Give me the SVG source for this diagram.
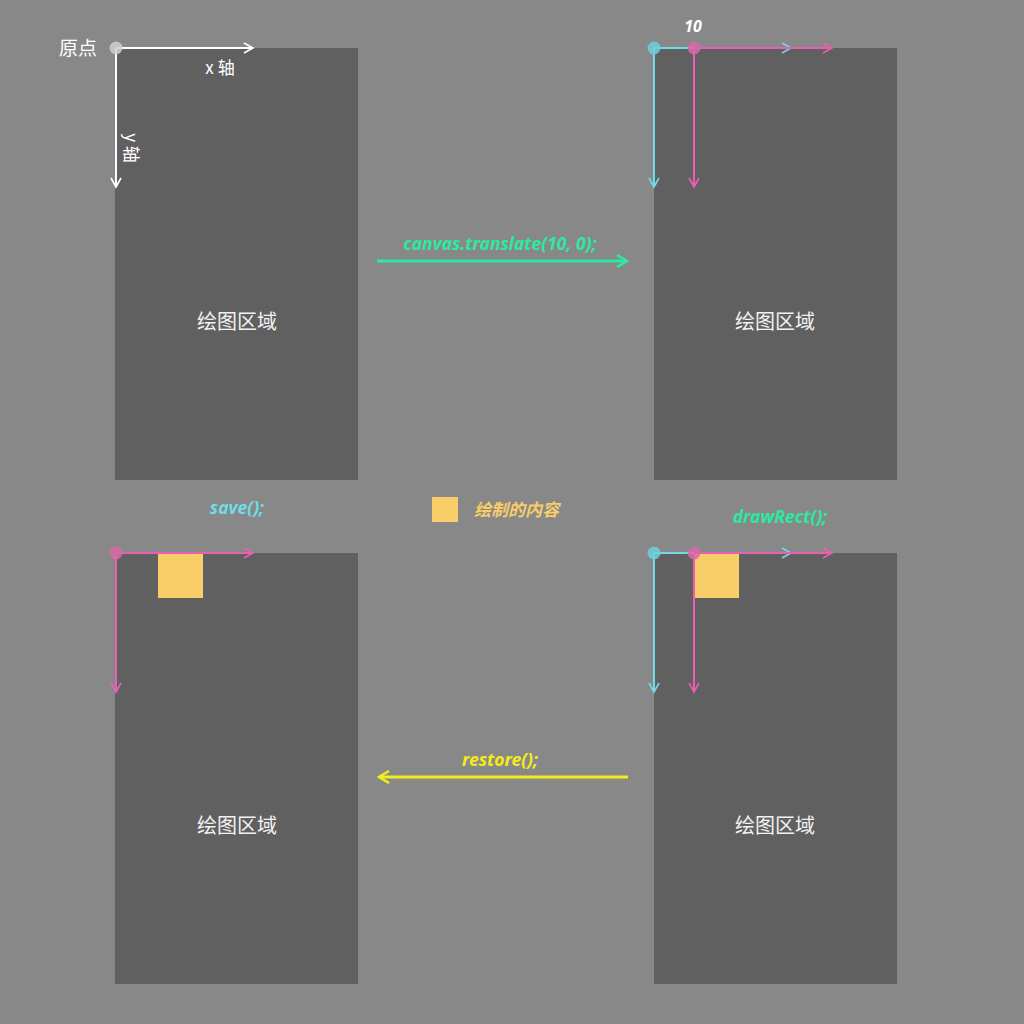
<svg xmlns="http://www.w3.org/2000/svg" width="1024" height="1024" viewBox="0 0 1024 1024">
<defs>
<style>
.panel{fill:#606060}
.lbl{font-family:"Noto Sans CJK SC","Noto Sans",sans-serif;font-size:20px;fill:#f2f2f2;text-anchor:middle}
.code{font-family:"Noto Sans","Noto Sans CJK SC",sans-serif;font-size:17.5px;font-style:italic;font-weight:bold;text-anchor:middle}
.w{stroke:#ffffff;stroke-width:2;fill:none}
.c{stroke:#6fdbe6;stroke-width:2;fill:none}
.p{stroke:#ea5fb4;stroke-width:2;fill:none}
.sq{fill:#f9cd68}
</style>
<marker id="aw" viewBox="0 0 12 12" refX="10" refY="6" markerWidth="12" markerHeight="12" markerUnits="userSpaceOnUse" orient="auto"><path d="M1,1 L10,6 L1,11" fill="none" stroke="#ffffff" stroke-width="1.6"/></marker>
<marker id="ac" viewBox="0 0 12 12" refX="10" refY="6" markerWidth="12" markerHeight="12" markerUnits="userSpaceOnUse" orient="auto"><path d="M1,1 L10,6 L1,11" fill="none" stroke="#6fdbe6" stroke-width="1.6"/></marker>
<marker id="ap" viewBox="0 0 12 12" refX="10" refY="6" markerWidth="12" markerHeight="12" markerUnits="userSpaceOnUse" orient="auto"><path d="M1,1 L10,6 L1,11" fill="none" stroke="#ea5fb4" stroke-width="1.6"/></marker>
<marker id="ag" viewBox="0 0 14 14" refX="12" refY="7" markerWidth="14" markerHeight="14" markerUnits="userSpaceOnUse" orient="auto"><path d="M2,1 L12,7 L2,13" fill="none" stroke="#2ee8a2" stroke-width="2.6"/></marker>
<marker id="ay" viewBox="0 0 14 14" refX="12" refY="7" markerWidth="14" markerHeight="14" markerUnits="userSpaceOnUse" orient="auto"><path d="M2,1 L12,7 L2,13" fill="none" stroke="#f2ec1c" stroke-width="2.6"/></marker>
</defs>
<rect width="1024" height="1024" fill="#888888"/>

<g id="panel-tl">
<rect class="panel" x="115" y="48" width="243" height="432"/>
<text class="lbl" x="237" y="329">绘图区域</text>
</g>
<g id="panel-tr">
<rect class="panel" x="654" y="48" width="243" height="432"/>
<text class="lbl" x="775" y="329">绘图区域</text>
</g>
<g id="panel-bl">
<rect class="panel" x="115" y="553" width="243" height="431"/>
<text class="lbl" x="237" y="833">绘图区域</text>
</g>
<g id="panel-br">
<rect class="panel" x="654" y="553" width="243" height="431"/>
<text class="lbl" x="775" y="833">绘图区域</text>
</g>

<g id="axes-tl">
<line class="w" x1="116" y1="48" x2="253" y2="48" marker-end="url(#aw)"/>
<line class="w" x1="116" y1="48" x2="116" y2="187" marker-end="url(#aw)"/>
<circle cx="116" cy="48" r="6.5" fill="#d0d0d0" opacity="0.85"/>
<text x="78" y="55" font-family="Noto Sans CJK SC,sans-serif" font-size="19" fill="#ffffff" text-anchor="middle">原点</text>
<text x="220" y="74" font-family="Noto Sans CJK SC,sans-serif" font-size="17" fill="#ffffff" text-anchor="middle">x 轴</text>
<text transform="translate(125,148) rotate(90)" font-family="Noto Sans CJK SC,sans-serif" font-size="17" fill="#ffffff" text-anchor="middle">y 轴</text>
</g>

<g id="axes-tr">
<line class="c" x1="654" y1="48" x2="791" y2="48" marker-end="url(#ac)"/>
<line class="c" x1="654" y1="48" x2="654" y2="187" marker-end="url(#ac)"/>
<circle cx="654" cy="48" r="6.5" fill="#6fd0d8" opacity="0.85"/>
<line class="p" x1="694" y1="48" x2="832" y2="48" marker-end="url(#ap)"/>
<line class="p" x1="694" y1="48" x2="694" y2="187" marker-end="url(#ap)"/>
<circle cx="694" cy="48" r="6.5" fill="#d868a8" opacity="0.85"/>
<text x="693" y="32" font-family="Noto Sans,sans-serif" font-size="16" font-style="italic" font-weight="bold" fill="#ffffff" text-anchor="middle">10</text>
</g>

<g id="axes-bl">
<rect class="sq" x="158" y="553" width="45" height="45"/>
<line class="p" x1="116" y1="553" x2="253" y2="553" marker-end="url(#ap)"/>
<line class="p" x1="116" y1="553" x2="116" y2="692" marker-end="url(#ap)"/>
<circle cx="116" cy="553" r="6.5" fill="#d868a8" opacity="0.85"/>
<text class="code" x="237" y="514" fill="#6fdbe6">save();</text>
</g>

<g id="axes-br">
<rect class="sq" x="695" y="553" width="44" height="45"/>
<line class="c" x1="654" y1="553" x2="791" y2="553" marker-end="url(#ac)"/>
<line class="c" x1="654" y1="553" x2="654" y2="692" marker-end="url(#ac)"/>
<circle cx="654" cy="553" r="6.5" fill="#6fd0d8" opacity="0.85"/>
<line class="p" x1="694" y1="553" x2="832" y2="553" marker-end="url(#ap)"/>
<line class="p" x1="694" y1="553" x2="694" y2="692" marker-end="url(#ap)"/>
<circle cx="694" cy="553" r="6.5" fill="#d868a8" opacity="0.85"/>
<text class="code" x="780" y="523" fill="#2ee8a2">drawRect();</text>
</g>

<g id="legend">
<rect class="sq" x="432" y="497" width="26" height="25"/>
<text x="474" y="516" font-family="Noto Sans CJK SC,sans-serif" font-size="17" font-style="italic" font-weight="bold" fill="#f9cd68">绘制的内容</text>
</g>

<g id="connectors">
<line x1="377" y1="261" x2="627" y2="261" stroke="#2ee8a2" stroke-width="3" marker-end="url(#ag)"/>
<text class="code" x="500" y="250" fill="#2ee8a2">canvas.translate(10, 0);</text>
<line x1="628" y1="777" x2="379" y2="777" stroke="#f2ec1c" stroke-width="3" marker-end="url(#ay)"/>
<text class="code" x="500" y="766" fill="#f2ec1c">restore();</text>
</g>
</svg>
